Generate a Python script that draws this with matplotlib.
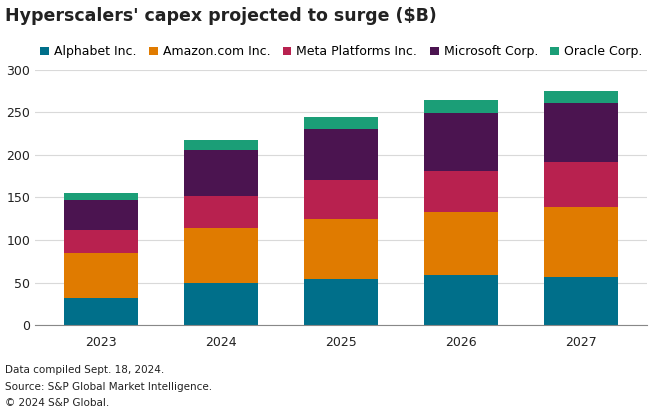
import numpy as np
import matplotlib.pyplot as plt

years = ["2023", "2024", "2025", "2026", "2027"]
series_names = ["Alphabet Inc.", "Amazon.com Inc.", "Meta Platforms Inc.", "Microsoft Corp.", "Oracle Corp."]
alphabet = [32, 49, 54, 59, 57]
amazon = [53, 65, 71, 74, 82]
meta = [27, 38, 45, 48, 52]
microsoft = [35, 54, 60, 68, 70]
oracle = [8, 11, 14, 15, 14]
colors = ["#006f8a", "#e07b00", "#b8214f", "#4b1450", "#1b9e77"]

fig = plt.figure(figsize=(6.6, 4.19), dpi=100)
ax = fig.add_axes([0.053, 0.224, 0.927, 0.61])
x = np.arange(len(years))
bottom = np.zeros(len(years))
for name, vals, c in zip(series_names, [alphabet, amazon, meta, microsoft, oracle], colors):
    ax.bar(x, vals, 0.62, bottom=bottom, color=c, label=name)
    bottom += np.array(vals)

ax.set_ylim(0, 300)
ax.set_yticks(range(0, 301, 50))
ax.set_xlim(-0.55, 4.55)
ax.set_xticks(x)
ax.set_xticklabels(years)
ax.tick_params(axis="both", length=0, labelsize=9, colors="#222222")
ax.tick_params(axis="x", pad=8)
ax.grid(axis="y", color="#d9d9d9", linewidth=0.8)
ax.set_axisbelow(True)
for s in ["top", "right", "left"]:
    ax.spines[s].set_visible(False)
ax.spines["bottom"].set_color("#888888")

ax.legend(loc="lower left", bbox_to_anchor=(-0.01, 1.0), ncol=5, frameon=False,
          fontsize=9, handlelength=0.7, handleheight=0.7, columnspacing=1.0, handletextpad=0.4)

fig.text(0.008, 0.95, "Hyperscalers' capex projected to surge ($B)", fontsize=12.5, weight="bold", color="#222222")
fig.text(0.008, 0.11, "Data compiled Sept. 18, 2024.", fontsize=7.5, color="#222222")
fig.text(0.008, 0.07, "Source: S&P Global Market Intelligence.", fontsize=7.5, color="#222222")
fig.text(0.008, 0.03, "\u00a9 2024 S&P Global.", fontsize=7.5, color="#222222")

fig.savefig("out.png", dpi=100)
